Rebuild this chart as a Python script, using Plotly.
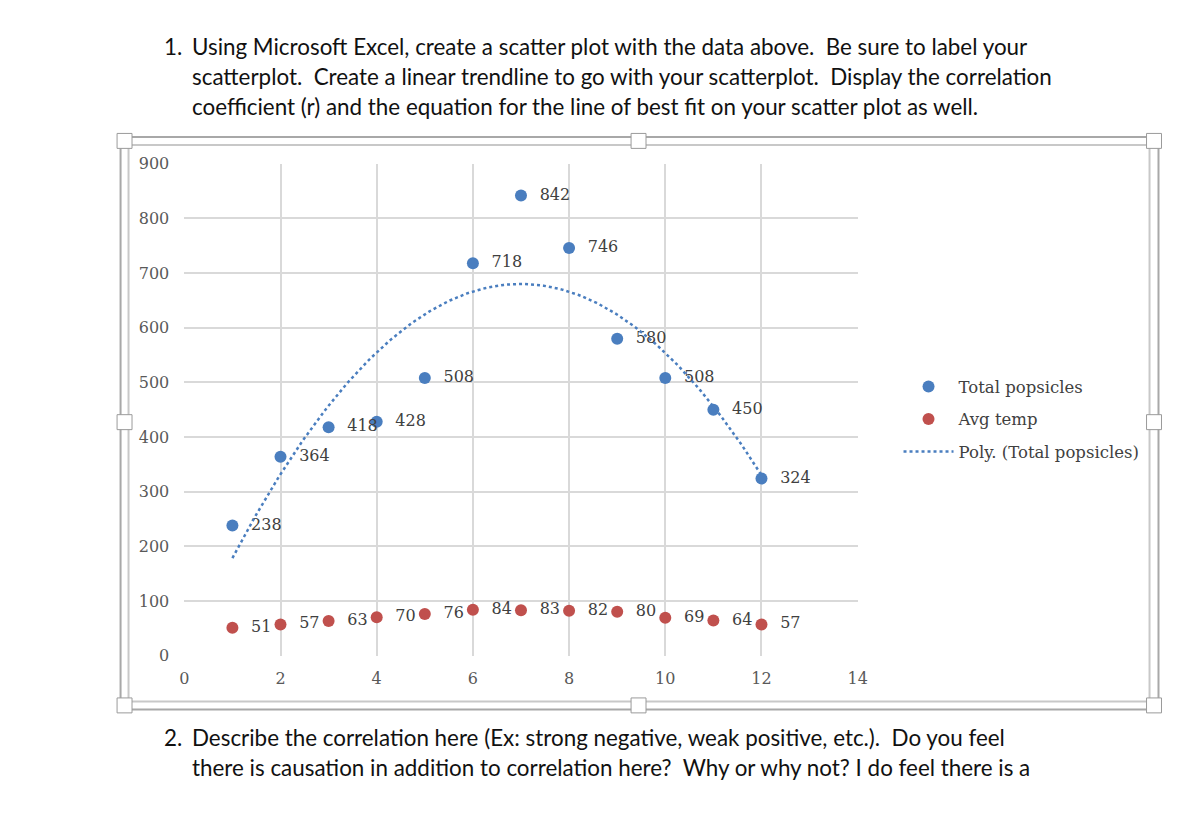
import numpy as np
import plotly.graph_objects as go

# ---- data ----
months = [1, 2, 3, 4, 5, 6, 7, 8, 9, 10, 11, 12]
total_popsicles = [238, 364, 418, 428, 508, 718, 842, 746, 580, 508, 450, 324]
avg_temp = [51, 57, 63, 70, 76, 84, 83, 82, 80, 69, 64, 57]
x_ticks = [0, 2, 4, 6, 8, 10, 12, 14]
y_ticks = [0, 100, 200, 300, 400, 500, 600, 700, 800, 900]

question1 = [
    "Using Microsoft Excel, create a scatter plot with the data above.  Be sure to label your",
    "scatterplot.  Create a linear trendline to go with your scatterplot.  Display the correlation",
    "coefficient (r) and the equation for the line of best fit on your scatter plot as well.",
]
question2 = [
    "Describe the correlation here (Ex: strong negative, weak positive, etc.).  Do you feel",
    "there is causation in addition to correlation here?  Why or why not? I do feel there is a",
]

# the page body has an 8px margin; keep the figure a bit smaller than the window
OFF = 8
W, H = 1166, 805
BLUE = "#4A7EBF"
RED = "#C0504D"
SERIF = "DejaVu Serif"
SANS = "Lato"
TXT_SIZE = 22.4

def px(x):
    page = 121 + (x - 121) / 0.991
    return (page - OFF) / W

def py(y):
    page = 330 + (y - 330) / 0.979
    return 1 - (page - OFF) / H

# polynomial (order 2) trendline fitted to the popsicle data
coef = np.polyfit(months, total_popsicles, 2)
tx = np.linspace(min(months), max(months), 200)
ty = np.polyval(coef, tx)

fig = go.Figure()
fig.add_trace(go.Scatter(
    x=months, y=total_popsicles, mode="markers+text", name="Total popsicles",
    text=["  " + str(v) for v in total_popsicles], textposition="middle right",
    textfont=dict(family=SERIF, size=16, color="#404040"),
    marker=dict(color=BLUE, size=12), legendgroup="a", cliponaxis=False,
))
fig.add_trace(go.Scatter(
    x=months, y=avg_temp, mode="markers+text", name="Avg temp",
    text=["  " + str(v) for v in avg_temp], textposition="middle right",
    textfont=dict(family=SERIF, size=16, color="#404040"),
    marker=dict(color=RED, size=12), legendgroup="b", cliponaxis=False,
))
fig.add_trace(go.Scatter(
    x=tx, y=ty, mode="lines", name="Poly. (Total popsicles)",
    line=dict(color=BLUE, width=2.5, dash="dot"), legendgroup="c",
))

shapes = []
# double frame
for (x0, y0, x1, y1, c) in [(117, 135, 1159, 709, "#a8a8a8"), (125, 143, 1150, 701, "#c8c8c8")]:
    shapes.append(dict(type="rect", xref="paper", yref="paper",
                       x0=px(x0), y0=py(y1), x1=px(x1), y1=py(y0),
                       line=dict(color=c, width=2), fillcolor="rgba(0,0,0,0)", layer="above"))
# handles
for cx in (121, 637, 1154.5):
    for cy in (139, 421, 705):
        if cx == 637 and cy == 421:
            continue
        shapes.append(dict(type="rect", xref="paper", yref="paper",
                           x0=px(cx - 7.5), x1=px(cx + 7.5), y0=py(cy + 7.5), y1=py(cy - 7.5),
                           line=dict(color="#9a9a9a", width=1), fillcolor="white", layer="above"))

annotations = []
def add_text(lines, y0, number):
    annotations.append(dict(xref="paper", yref="paper", x=px(159), y=py(y0), text=number,
                            showarrow=False, xanchor="left", yanchor="middle",
                            font=dict(family=SANS, size=TXT_SIZE, color="#111111")))
    for i, line in enumerate(lines):
        annotations.append(dict(xref="paper", yref="paper", x=px(187), y=py(y0 + i * 30.5),
                                text=line, showarrow=False, xanchor="left", yanchor="middle",
                                font=dict(family=SANS, size=TXT_SIZE, color="#111111")))

add_text(question1, 44, "1.")
add_text(question2, 737, "2.")

fig.update_layout(
    width=W, height=H,
    margin=dict(l=0, r=0, t=0, b=0),
    paper_bgcolor="white", plot_bgcolor="white",
    xaxis=dict(domain=[px(181), px(857)], range=[0, 14], tickvals=x_ticks,
               showgrid=True, gridcolor="#d9d9d9", gridwidth=1.5, zeroline=False,
               showline=False, ticks="", ticklabelstandoff=11,
               tickfont=dict(family=SERIF, size=16, color="#595959")),
    yaxis=dict(domain=[py(655), py(162)], range=[0, 900], tickvals=y_ticks,
               showgrid=True, gridcolor="#d9d9d9", gridwidth=1.5, zeroline=False,
               showline=False, ticks="", ticklabelstandoff=14,
               tickfont=dict(family=SERIF, size=16, color="#595959")),
    showlegend=True,
    legend=dict(x=px(898), y=py(368), xanchor="left", yanchor="top",
                font=dict(family=SERIF, size=16.5, color="#404040"),
                itemwidth=50, tracegroupgap=8, bgcolor="rgba(0,0,0,0)"),
    shapes=shapes, annotations=annotations,
)

fig.write_html("out.html")
